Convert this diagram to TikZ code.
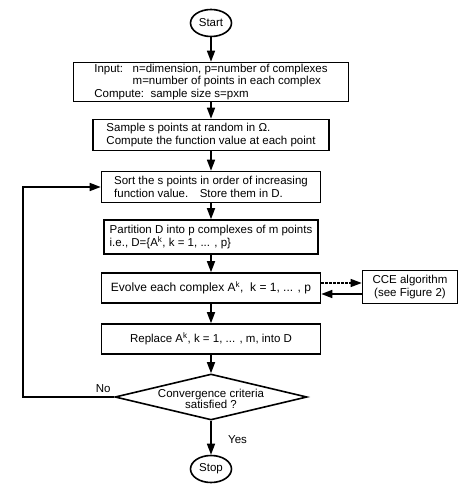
\documentclass[tikz,border=0pt]{standalone}
\usepackage{fontspec}
\setmainfont{Liberation Sans}
\usetikzlibrary{shapes.geometric,arrows.meta}

\begin{document}
\begin{tikzpicture}[x=1pt, y=-1pt, font=\fontsize{11.5}{12.5}\selectfont]
  \tikzstyle{box}=[rectangle, draw, line width=1.6pt, inner sep=0pt, align=left]
  \tikzstyle{term}=[ellipse, draw, line width=1.6pt, inner sep=0pt, minimum width=41pt, minimum height=27pt]
  \tikzstyle{flow}=[line width=1.6pt, -{Triangle[length=11pt, width=8pt]}]

  \useasboundingbox (0,0) rectangle (474,489);

  \node[term] (start) at (211, 23) {Start};
  \node[box, minimum width=275pt, minimum height=39pt] (input) at (211, 82)
    {Input:\ \ \ n=dimension, p=number of complexes\\
     \phantom{Input:\ \ \ }m=number of points in each complex\\
     Compute:\ \ sample size s=pxm};
  \node[box, minimum width=236pt, minimum height=31pt] (sample) at (211, 135)
    {Sample s points at random in Ω.\\Compute the function value at each point};
  \node[box, minimum width=219pt, minimum height=31pt] (sort) at (211, 187)
    {Sort the s points in order of increasing\\function value.\quad Store them in D.};
  \node[box, minimum width=214pt, minimum height=34pt] (partition) at (211, 237)
    {Partition D into p complexes of m points\\i.e., D=\{A\textsuperscript{k}, k = 1, ... , p\}};
  \node[box, minimum width=219pt, minimum height=30pt, font=\fontsize{12}{12.5}\selectfont] (evolve) at (211, 288)
    {Evolve each complex A\textsuperscript{k},\ \ k = 1, ... , p};
  \node[box, align=center, minimum width=95pt, minimum height=33pt] (cce) at (410, 287)
    {CCE algorithm\\(see Figure 2)};
  \node[box, minimum width=219pt, minimum height=30pt] (replace) at (211, 339)
    {Replace A\textsuperscript{k}, k = 1, ... , m, into D};
  \node[diamond, draw, line width=1.6pt, inner sep=0pt, minimum width=192pt, minimum height=46pt,
    label={[align=center, font=\fontsize{11.5}{11.5}\selectfont, yshift=-2pt]center:Convergence criteria\\satisfied ?}] (decision) at (211, 397) {};
  \node[term] (stop) at (211, 469) {Stop};
  \coordinate (back) at (23, 397);

  \path[flow] (start) edge (input);
  \path[flow] (input) edge (sample);
  \path[flow] (sample) edge (sort);
  \path[flow] (sort) edge (partition);
  \path[flow] (partition) edge (evolve);
  \path[flow] (evolve) edge (replace);
  \path[flow] (replace) edge (decision);
  \path[flow] (decision) edge node[pos=0.55, right=13pt] {Yes} (stop);
  \draw[flow] (decision) -- node[pos=0.12, above] {No} (back) |- (sort);
  \draw[flow, line width=1.2pt, dash pattern=on 3pt off 1pt] ([yshift=5pt]evolve.east) -- ([yshift=5pt]evolve.east -| cce.west);
  \draw[flow] ([yshift=-6pt]evolve.east -| cce.west) -- ([yshift=-6pt]evolve.east);
\end{tikzpicture}
\end{document}
